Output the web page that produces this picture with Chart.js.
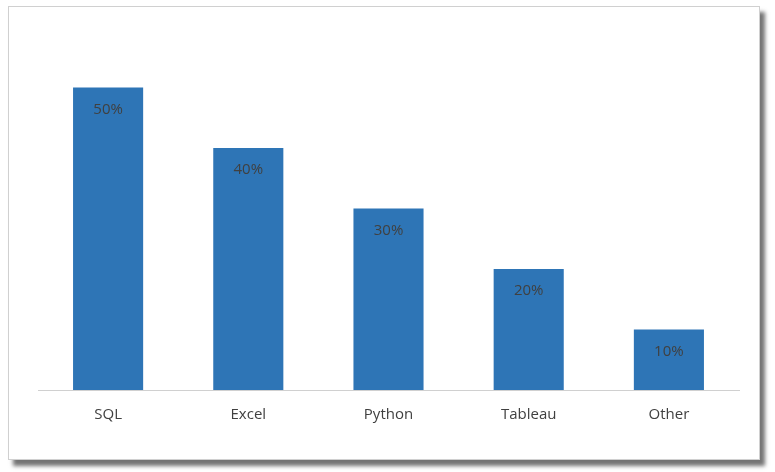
<!DOCTYPE html>
<html>
<head>
<meta charset="utf-8">
<script src="https://cdn.jsdelivr.net/npm/chart.js@4/dist/chart.umd.min.js"></script>
<style>
  body { margin: 0; background: #fff; }
  #card {
    position: absolute; left: 8px; top: 6px; width: 750px; height: 452px;
    background: #fff; border: 1px solid #d0d0d0;
    box-shadow: 5px 6px 4px rgba(0,0,0,0.55);
  }
</style>
</head>
<body>
<div id="card"><canvas id="myChart" width="750" height="452"></canvas></div>
<script>
var categories = ['SQL', 'Excel', 'Python', 'Tableau', 'Other'];
var values = [50, 40, 30, 20, 10];

// labels drawn inside the top of each bar
var barLabels = {
    id: 'barLabels',
    afterDatasetsDraw: function (chart) {
        var ctx = chart.ctx;
        ctx.save();
        ctx.font = '15px "Open Sans", "Liberation Sans", sans-serif';
        ctx.fillStyle = '#404040';
        ctx.textAlign = 'center';
        ctx.textBaseline = 'middle';
        chart.getDatasetMeta(0).data.forEach(function (bar, i) {
            ctx.fillText(values[i] + '%', bar.x, bar.y + 22);
        });
        ctx.restore();
    }
};

var ctx = document.getElementById('myChart').getContext('2d');
var mychart = new Chart(ctx, {
    type: 'bar',
    data: {
        labels: categories,
        datasets: [{
            data: values,
            backgroundColor: '#2E75B6',
            categoryPercentage: 1,
            barPercentage: 0.5
        }]
    },
    options: {
        responsive: false,
        animation: false,
        layout: { padding: { left: 29, right: 20, top: 20, bottom: 19 } },
        plugins: { legend: { display: false }, tooltip: { enabled: false } },
        scales: {
            x: {
                grid: { display: false, drawTicks: false },
                border: { color: '#d0d0d0', width: 1 },
                ticks: {
                    color: '#404040', padding: 16,
                    font: { size: 15, family: '"Open Sans", "Liberation Sans", sans-serif' }
                }
            },
            y: { display: false, min: 0, max: 60 }
        }
    },
    plugins: [barLabels]
});
</script>
</body>
</html>
